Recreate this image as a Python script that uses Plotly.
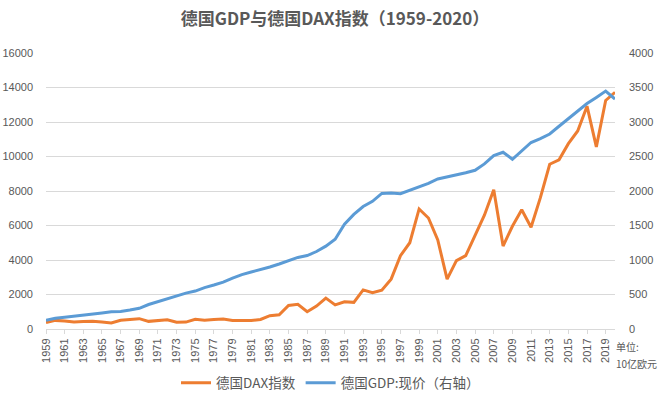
import plotly.graph_objects as go

years = list(range(1959, 2021))

dax = [370, 500, 470, 400, 436, 450, 404, 350, 507, 552,
       600, 443, 477, 537, 397, 401, 563, 510, 549, 575,
       498, 481, 490, 552, 774, 820, 1366, 1432, 1000, 1328,
       1791, 1398, 1578, 1545, 2267, 2107, 2254, 2889, 4250, 5002,
       6958, 6434, 5160, 2893, 3965, 4256, 5408, 6597, 8067, 4810,
       5957, 6914, 5898, 7612, 9552, 9806, 10743, 11481, 12918, 10559,
       13249, 13719]

gdp = [125, 155, 170, 184, 194, 211, 232, 250, 253, 274,
       300, 355, 398, 434, 484, 520, 550, 600, 637, 679,
       737, 789, 826, 860, 898, 942, 984, 1037, 1065, 1123,
       1201, 1300, 1520, 1660, 1775, 1850, 1965, 1970, 1960, 2010,
       2065, 2110, 2175, 2205, 2225, 2265, 2300, 2393, 2513, 2561,
       2460, 2580, 2703, 2758, 2826, 2938, 3049, 3160, 3267, 3356,
       3449, 3332]

tick_years = list(range(1959, 2020, 2))
tick_text = [str(y) for y in tick_years]

title_text = "德国GDP与德国DAX指数（1959-2020）"
name_dax = "德国DAX指数"
name_gdp = "德国GDP:现价（右轴）"
unit_line1 = "单位:"
unit_line2 = "10亿欧元"

TXT = "#595959"
GRID = "#D9D9D9"
CJK = "Noto Sans CJK SC"
NUM = "Liberation Sans, Noto Sans CJK SC"

W, H = 661, 399
L, R, T, B = 46, 46, 53, 70
PW, PH = W - L - R, H - T - B


def px(x):
    return (x - L) / PW


def py(y):
    return (T + PH - y) / PH


fig = go.Figure()
fig.add_trace(go.Scatter(x=years, y=dax, name=name_dax, mode="lines",
                         line=dict(color="#ED7D31", width=3), yaxis="y"))
fig.add_trace(go.Scatter(x=years, y=gdp, name=name_gdp, mode="lines",
                         line=dict(color="#5B9BD5", width=3), yaxis="y2"))

fig.update_layout(
    width=W, height=H,
    margin=dict(l=L, r=R, t=T, b=B, pad=0),
    paper_bgcolor="white", plot_bgcolor="white",
    title=dict(text="<b>" + title_text + "</b>", x=px(335), xanchor="center",
               y=1 - 19 / H, yanchor="middle", xref="paper",
               font=dict(family=CJK, size=17, color=TXT)),
    xaxis=dict(range=[1959, 2020], tickmode="array", tickvals=tick_years,
               ticktext=tick_text, tickangle=-90, ticks="outside", ticklen=4,
               tickcolor=GRID, showline=True, linecolor=GRID, linewidth=1,
               showgrid=False, zeroline=False, automargin=False,
               tickfont=dict(family=NUM, size=11, color=TXT)),
    yaxis=dict(range=[0, 16000], dtick=2000, tickformat="d",
               showgrid=True, gridcolor=GRID, automargin=False,
               gridwidth=1, zeroline=False, showline=False, ticks="",
               ticklabelstandoff=12,
               tickfont=dict(family=NUM, size=11, color=TXT)),
    yaxis2=dict(range=[0, 4000], dtick=500, tickformat="d", overlaying="y",
                side="right", automargin=False,
                showgrid=False, zeroline=False, showline=False, ticks="",
                ticklabelstandoff=13,
                tickfont=dict(family=NUM, size=11, color=TXT)),
    legend=dict(orientation="h", x=0.5, xanchor="center",
                xref="container", yref="container", y=1 - 383 / H,
                yanchor="middle", font=dict(family=CJK, size=13.5, color=TXT),
                bgcolor="rgba(0,0,0,0)"),
    showlegend=True,
)

fig.add_annotation(text=unit_line1, xref="paper", yref="paper",
                   x=px(615), y=py(346), xanchor="left",
                   yanchor="middle", showarrow=False, borderpad=0,
                   font=dict(family=CJK, size=10, color=TXT))
fig.add_annotation(text=unit_line2, xref="paper", yref="paper",
                   x=px(615), y=py(363), xanchor="left",
                   yanchor="middle", showarrow=False, borderpad=0,
                   font=dict(family=CJK, size=10, color=TXT))

fig.write_html("out.html", config={"displayModeBar": False},
               post_script="document.body.style.margin='0';"
                           "document.documentElement.style.overflow='hidden';")
